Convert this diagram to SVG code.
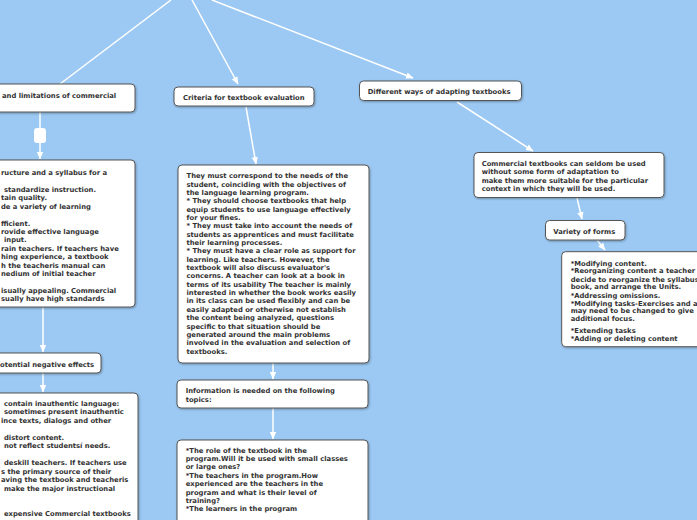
<svg xmlns="http://www.w3.org/2000/svg" width="697" height="520" viewBox="0 0 697 520">
<style>
.bg{fill:#9cc9f3}
.box{fill:#fff;stroke:#555;stroke-width:1;filter:url(#sh)}
.t{font-family:"DejaVu Sans",Verdana,sans-serif;font-weight:bold;font-size:6.8px;fill:#333}
.c{stroke:#fff;stroke-width:1.5;fill:none}
</style>
<defs>
<filter id="sh" x="-10%" y="-10%" width="120%" height="130%">
<feDropShadow dx="0.8" dy="1" stdDeviation="0.8" flood-color="#000" flood-opacity="0.3"/>
</filter>
<marker id="ar" markerUnits="userSpaceOnUse" markerWidth="8" markerHeight="8" viewBox="0 0 8 8" refX="7" refY="4" orient="auto">
<path d="M0,0.8 L7.5,4 L0,7.2 Z" fill="#fff"/>
</marker>
</defs>
<rect class="bg" x="0" y="0" width="697" height="520"/>

<g id="connectors">
<line class="c" x1="171" y1="0" x2="60" y2="84"/>
<line class="c" x1="192" y1="0" x2="238" y2="84" marker-end="url(#ar)"/>
<line class="c" x1="212" y1="0" x2="413" y2="78" marker-end="url(#ar)"/>
<line class="c" x1="40" y1="112" x2="40" y2="128"/>
<line class="c" x1="40" y1="143" x2="40" y2="159" marker-end="url(#ar)"/>
<line class="c" x1="43" y1="307" x2="43" y2="352" marker-end="url(#ar)"/>
<line class="c" x1="43" y1="373" x2="43" y2="392" marker-end="url(#ar)"/>
<line class="c" x1="246" y1="107" x2="256" y2="164" marker-end="url(#ar)"/>
<line class="c" x1="273" y1="363" x2="273" y2="379" marker-end="url(#ar)"/>
<line class="c" x1="273" y1="408" x2="273" y2="439" marker-end="url(#ar)"/>
<line class="c" x1="457" y1="102" x2="533" y2="151" marker-end="url(#ar)"/>
<line class="c" x1="577" y1="198" x2="582" y2="219" marker-end="url(#ar)"/>
<line class="c" x1="597" y1="240" x2="605" y2="250" marker-end="url(#ar)"/>
</g>

<g id="node-advantages">
<rect class="box" x="-10" y="84" width="145" height="28" rx="4"/>
<text class="t" x="2" y="97.5">and limitations of commercial</text>
</g>

<g id="node-small">
<rect x="34" y="128" width="12" height="15" rx="3" fill="#fff"/>
</g>

<g id="node-advantages-text">
<rect class="box" x="-10" y="160" width="145" height="147" rx="4"/>
<text class="t">
<tspan x="1" y="175.2">ructure and a syllabus for a</tspan>
<tspan x="4" y="192">standardize instruction.</tspan>
<tspan x="1" y="200.4">tain quality.</tspan>
<tspan x="1" y="208.8">de a variety of learning</tspan>
<tspan x="1" y="225.6">fficient.</tspan>
<tspan x="1" y="234">rovide effective language</tspan>
<tspan x="4" y="242.4">input.</tspan>
<tspan x="1" y="250.8">rain teachers. If teachers have</tspan>
<tspan x="1" y="259.2">hing experience, a textbook</tspan>
<tspan x="1" y="267.6">h the teacheris manual can</tspan>
<tspan x="1" y="276">nedium of initial teacher</tspan>
<tspan x="1" y="292.8">isually appealing. Commercial</tspan>
<tspan x="1" y="301.2">sually have high standards</tspan>
</text>
</g>

<g id="node-negative">
<rect class="box" x="-10" y="353" width="111" height="20" rx="4"/>
<text class="t" x="0" y="366.5">otential negative effects</text>
</g>

<g id="node-negative-text">
<rect class="box" x="-10" y="393" width="148" height="140" rx="4"/>
<text class="t">
<tspan x="4" y="405.8">contain inauthentic language:</tspan>
<tspan x="4" y="414.3">sometimes present inauthentic</tspan>
<tspan x="1" y="422.8">ince texts, dialogs and other</tspan>
<tspan x="4" y="439.8">distort content.</tspan>
<tspan x="4" y="448.3">not reflect studentsí needs.</tspan>
<tspan x="4" y="465.3">deskill teachers. If teachers use</tspan>
<tspan x="1" y="473.8">s the primary source of their</tspan>
<tspan x="1" y="482.3">aving the textbook and teacheris</tspan>
<tspan x="4" y="490.8">make the major instructional</tspan>
<tspan x="4" y="516.3">expensive Commercial textbooks</tspan>
</text>
</g>

<g id="node-criteria">
<rect class="box" x="174" y="87" width="140" height="19" rx="4"/>
<text class="t" x="183" y="99.5">Criteria for textbook evaluation</text>
</g>

<g id="node-criteria-text">
<rect class="box" x="178" y="165" width="191" height="198" rx="4"/>
<text class="t">
<tspan x="186.5" y="178.2">They must correspond to the needs of the</tspan>
<tspan x="186.5" y="186.55">student, coinciding with the objectives of</tspan>
<tspan x="186.5" y="194.9">the language learning program.</tspan>
<tspan x="186.5" y="203.25">* They should choose textbooks that help</tspan>
<tspan x="186.5" y="211.6">equip students to use language effectively</tspan>
<tspan x="186.5" y="219.95">for your fines.</tspan>
<tspan x="186.5" y="228.3">* They must take into account the needs of</tspan>
<tspan x="186.5" y="236.65">students as apprentices and must facilitate</tspan>
<tspan x="186.5" y="245">their learning processes.</tspan>
<tspan x="186.5" y="253.35">* They must have a clear role as support for</tspan>
<tspan x="186.5" y="261.7">learning. Like teachers. However, the</tspan>
<tspan x="186.5" y="270.05">textbook will also discuss evaluator's</tspan>
<tspan x="186.5" y="278.4">concerns. A teacher can look at a book in</tspan>
<tspan x="186.5" y="286.75">terms of its usability The teacher is mainly</tspan>
<tspan x="186.5" y="295.1">interested in whether the book works easily</tspan>
<tspan x="186.5" y="303.45">in its class can be used flexibly and can be</tspan>
<tspan x="186.5" y="311.8">easily adapted or otherwise not establish</tspan>
<tspan x="186.5" y="320.15">the content being analyzed, questions</tspan>
<tspan x="186.5" y="328.5">specific to that situation should be</tspan>
<tspan x="186.5" y="336.85">generated around the main problems</tspan>
<tspan x="186.5" y="345.2">involved in the evaluation and selection of</tspan>
<tspan x="186.5" y="353.55">textbooks.</tspan>
</text>
</g>

<g id="node-information">
<rect class="box" x="177" y="380" width="191" height="28" rx="4"/>
<text class="t">
<tspan x="185.7" y="393.2">Information is needed on the following</tspan>
<tspan x="185.7" y="401.5">topics:</tspan>
</text>
</g>

<g id="node-information-text">
<rect class="box" x="177" y="440" width="191" height="95" rx="4"/>
<text class="t">
<tspan x="185.7" y="452.5">*The role of the textbook in the</tspan>
<tspan x="185.7" y="460.9">program.Will it be used with small classes</tspan>
<tspan x="185.7" y="469.3">or large ones?</tspan>
<tspan x="185.7" y="477.7">*The teachers in the program.How</tspan>
<tspan x="185.7" y="486.1">experienced are the teachers in the</tspan>
<tspan x="185.7" y="494.5">program and what is their level of</tspan>
<tspan x="185.7" y="502.9">training?</tspan>
<tspan x="185.7" y="511.3">*The learners in the program</tspan>
</text>
</g>

<g id="node-adapting">
<rect class="box" x="359.5" y="81" width="162" height="19.5" rx="4"/>
<text class="t" x="367.7" y="94">Different ways of adapting textbooks</text>
</g>

<g id="node-commercial">
<rect class="box" x="474" y="152.5" width="190" height="45" rx="4"/>
<text class="t">
<tspan x="481.7" y="165.8">Commercial textbooks can seldom be used</tspan>
<tspan x="481.7" y="174">without some form of adaptation to</tspan>
<tspan x="481.7" y="182.8">make them more suitable for the particular</tspan>
<tspan x="481.7" y="191">context in which they will be used.</tspan>
</text>
</g>

<g id="node-variety">
<rect class="box" x="545.5" y="220.5" width="79.5" height="19.5" rx="4"/>
<text class="t" x="553.3" y="233.5">Variety of forms</text>
</g>

<g id="node-forms">
<rect class="box" x="561.7" y="251.7" width="150" height="95" rx="4"/>
<text class="t">
<tspan x="570.7" y="265.8">*Modifying content.</tspan>
<tspan x="570.7" y="273.2">*Reorganizing content a teacher</tspan>
<tspan x="570.7" y="281.5">decide to reorganize the syllabus</tspan>
<tspan x="570.7" y="289.2">book, and arrange the Units.</tspan>
<tspan x="570.7" y="297.5">*Addressing omissions.</tspan>
<tspan x="570.7" y="305.8">*Modifying tasks-Exercises and a</tspan>
<tspan x="570.7" y="313.2">may need to be changed to give</tspan>
<tspan x="570.7" y="320.8">additional focus.</tspan>
<tspan x="570.7" y="332.5">*Extending tasks</tspan>
<tspan x="570.7" y="341.2">*Adding or deleting content</tspan>
</text>
</g>
</svg>
